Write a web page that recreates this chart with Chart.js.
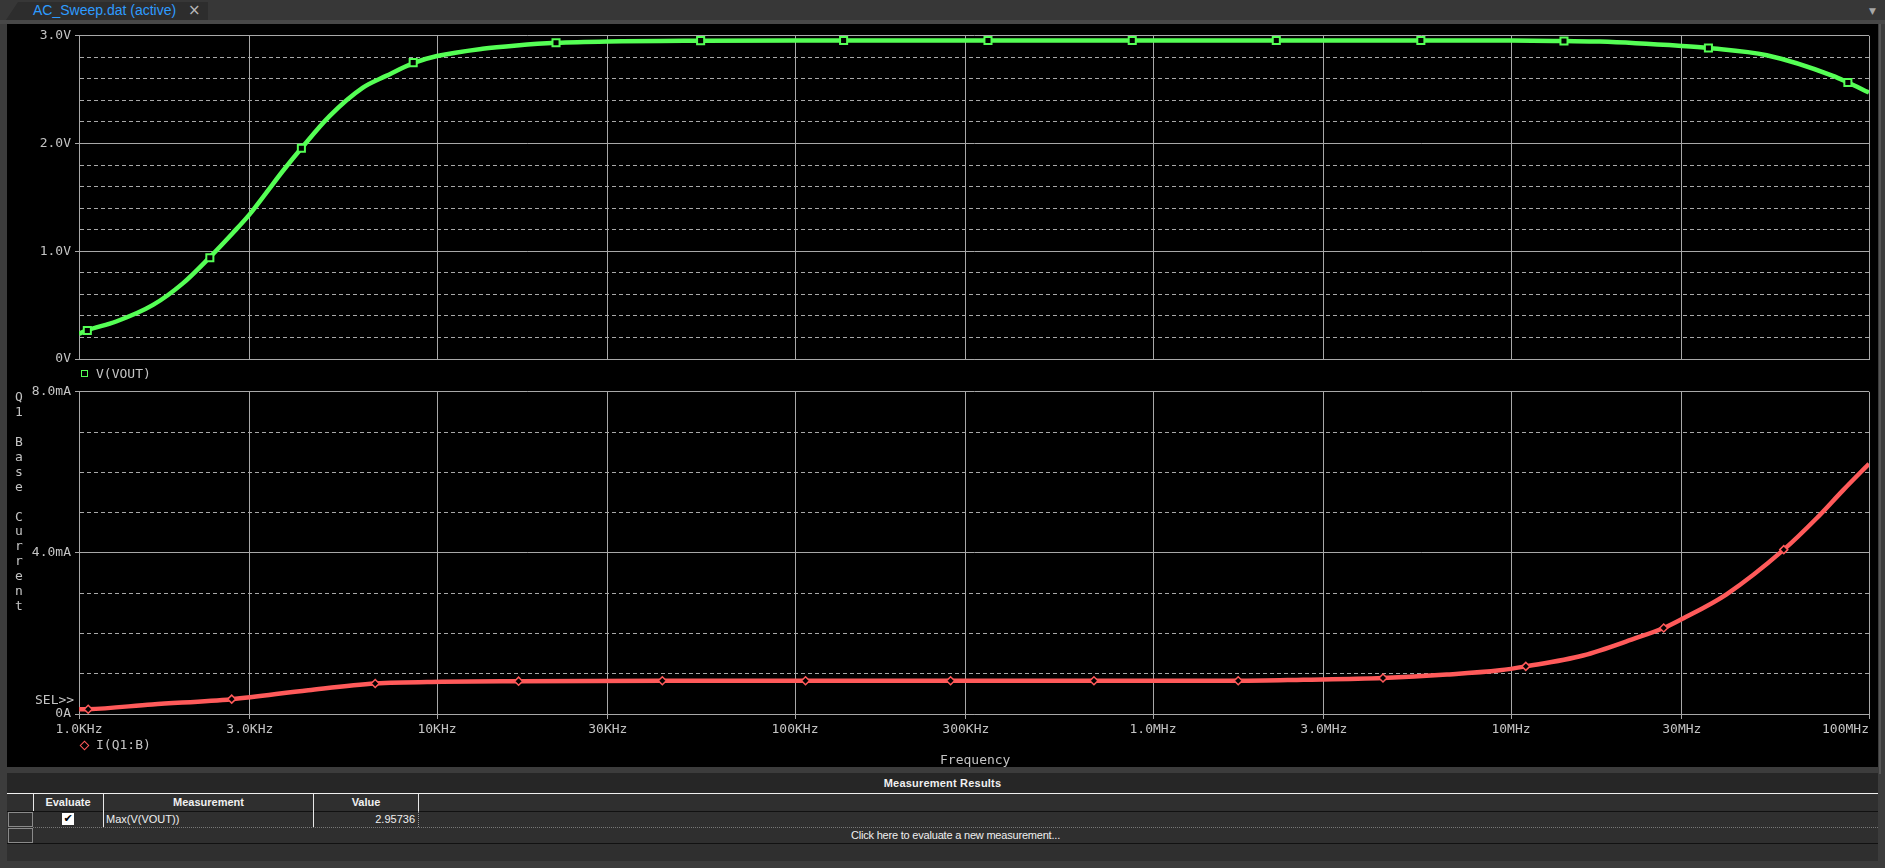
<!DOCTYPE html>
<html>
<head>
<meta charset="utf-8">
<script src="https://cdn.jsdelivr.net/npm/chart.js@4.4.1/dist/chart.umd.min.js"></script>
<style>
  body { margin: 0; width: 1885px; height: 868px; background: #3c3c3c; overflow: hidden; position: relative; }
  .abs { position: absolute; }
  .mono { font-family: "DejaVu Sans Mono", monospace; font-size: 13px; color: #c4c4c4; white-space: pre; }
  .ui { font-family: "Liberation Sans", Arial, sans-serif; font-size: 11px; color: #f0f0f0; white-space: pre; }
  .b { font-weight: bold; }
  canvas { position: absolute; }
</style>
</head>
<body>
<!-- tab bar -->
<div class="abs" style="left:0;top:0;width:1885px;height:20px;background:#373737"></div>
<div class="abs" style="left:6px;top:2px;width:202px;height:18px;background:#2d2d2d;clip-path:polygon(12px 0,100% 0,100% 100%,0 100%)"></div>
<div class="abs" style="left:33px;top:2px;font:14px 'Liberation Sans',Arial,sans-serif;color:#2d9cff;white-space:pre">AC_Sweep.dat (active)</div>
<div class="abs" style="left:188px;top:1px;font:15px 'DejaVu Sans',sans-serif;color:#b8b8b8">×</div>
<div class="abs" style="left:1869px;top:6px;font:9px 'DejaVu Sans',sans-serif;color:#a8a8a8">▼</div>
<div class="abs" style="left:0;top:20px;width:1885px;height:4px;background:#474747"></div>
<div class="abs" style="left:1879px;top:24px;width:2px;height:750px;background:#555"></div>

<!-- plot area -->
<div class="abs" style="left:7px;top:24px;width:1871px;height:743px;background:#000"></div>
<canvas id="chartTop" width="1871" height="361" style="left:7px;top:24px"></canvas>
<canvas id="chartBot" width="1871" height="385" style="left:7px;top:380px"></canvas>

<div class="abs" style="left:81px;top:370px;width:5px;height:5px;border:1.5px solid #55ff55"></div>
<div class="abs mono" style="left:96px;top:366px;line-height:16px">V(VOUT)</div>
<div class="abs" style="left:81px;top:742px;width:5px;height:5px;border:1.5px solid #ff5a5a;transform:rotate(45deg)"></div>
<div class="abs mono" style="left:96px;top:737px;line-height:16px">I(Q1:B)</div>
<div class="abs mono" style="left:35px;top:692px;line-height:16px">SEL&gt;&gt;</div>
<div class="abs mono" style="left:940px;top:752px;line-height:16px">Frequency</div>
<div id="yTitle" class="abs mono" style="left:15px;top:390px;line-height:14.93px"></div>

<!-- measurement panel -->
<div class="abs" style="left:7px;top:773px;width:1871px;height:20px;background:#262626"></div>
<div class="abs ui b" style="left:7px;top:777px;width:1871px;text-align:center;line-height:12px;letter-spacing:0.2px">Measurement Results</div>
<div class="abs" style="left:7px;top:793px;width:1871px;height:1px;background:#f0f0f0"></div>
<div class="abs" style="left:7px;top:794px;width:1871px;height:67px;background:#2f2f2f"></div>
<div class="abs" style="left:7px;top:811px;width:1871px;height:1px;background:#111"></div>
<div class="abs" style="left:33px;top:827px;width:1845px;height:0;border-top:1px dotted #777"></div>
<div class="abs" style="left:7px;top:843px;width:1871px;height:1px;background:#111"></div>
<div class="abs" style="left:33px;top:794px;width:1px;height:17px;background:#e8e8e8"></div>
<div class="abs" style="left:103px;top:794px;width:1px;height:33px;background:#e8e8e8"></div>
<div class="abs" style="left:313px;top:794px;width:1px;height:33px;background:#e8e8e8"></div>
<div class="abs" style="left:418px;top:794px;width:1px;height:17px;background:#e8e8e8"></div>
<div class="abs" style="left:418px;top:811px;width:0;height:16px;border-left:1px dotted #999"></div>
<div class="abs" style="left:8px;top:812px;width:23px;height:13px;border:1px solid #8a8a8a"></div>
<div class="abs" style="left:8px;top:828px;width:23px;height:13px;border:1px solid #8a8a8a"></div>
<div class="abs ui b" style="left:33px;top:796px;width:70px;text-align:center;line-height:13px">Evaluate</div>
<div class="abs ui b" style="left:104px;top:796px;width:209px;text-align:center;line-height:13px">Measurement</div>
<div class="abs ui b" style="left:314px;top:796px;width:104px;text-align:center;line-height:13px">Value</div>
<div class="abs" style="left:62px;top:813px;width:12px;height:12px;background:#fff;color:#000;font:11px 'DejaVu Sans',sans-serif;line-height:12px;text-align:center">✔</div>
<div class="abs ui" style="left:106px;top:813px;line-height:13px">Max(V(VOUT))</div>
<div class="abs ui" style="left:314px;top:813px;width:101px;text-align:right;line-height:13px">2.95736</div>
<div class="abs ui" style="left:33px;top:829px;width:1845px;text-align:center;line-height:13px;letter-spacing:-0.2px">Click here to evaluate a new measurement...</div>

<script>
// V(VOUT) curve, volts
const vFreq = [1000, 1050, 1270, 1610, 1950, 2310, 2690, 3000, 3330, 3710, 4180, 5010, 6210, 7210, 8660,
  10000, 13400, 16700, 21500, 30000, 55000, 1e5, 3e5, 1e6, 3e6, 1e7, 1.41e7, 1.77e7, 3e7, 3.56e7, 5.18e7, 7.93e7, 8.73e7, 1e8];
const vOut = [0.234, 0.264, 0.348, 0.502, 0.702, 0.939, 1.170, 1.345, 1.540, 1.745, 1.956, 2.255, 2.519, 2.628, 2.751,
  2.812, 2.880, 2.911, 2.935, 2.948, 2.955, 2.957, 2.957, 2.957, 2.957, 2.956, 2.951, 2.946, 2.905, 2.886, 2.819, 2.628, 2.566, 2.473];
const vMarkFreq = [1055, 2320, 4180, 8580, 21500, 54500, 136700, 346000, 875000, 2.21e6, 5.6e6, 1.406e7, 3.56e7, 8.73e7];
const vMarkVals = [0.264, 0.939, 1.956, 2.751, 2.935, 2.955, 2.957, 2.957, 2.957, 2.957, 2.957, 2.951, 2.886, 2.566];

// I(Q1:B) curve, mA
const iFreq = [1000, 1061, 1600, 2670, 4370, 6720, 10300, 16900, 42600, 1.73e6, 2.63e6, 4.39e6, 6.62e6, 9.3e6, 1.1e7,
  1.59e7, 2.2e7, 2.67e7, 3e7, 4e7, 5.78e7, 7.14e7, 8.47e7, 1e8];
const iBase = [0.115, 0.118, 0.237, 0.369, 0.591, 0.756, 0.80, 0.815, 0.825, 0.825, 0.85, 0.894, 0.978, 1.084, 1.182,
  1.453, 1.864, 2.135, 2.357, 2.973, 4.081, 4.86, 5.56, 6.214];
const iMarkFreq = [1061, 2670, 6720, 16900, 42600, 107000, 272000, 684000, 1.73e6, 4.39e6, 1.1e7, 2.67e7, 5.78e7];
const iMarkVals = [0.118, 0.369, 0.756, 0.815, 0.825, 0.825, 0.825, 0.825, 0.825, 0.894, 1.182, 2.135, 4.081];

const xTickVals = [1e3, 3e3, 1e4, 3e4, 1e5, 3e5, 1e6, 3e6, 1e7, 3e7, 1e8];
const xTickLabels = ['1.0KHz', '3.0KHz', '10KHz', '30KHz', '100KHz', '300KHz', '1.0MHz', '3.0MHz', '10MHz', '30MHz', '100MHz'];
const vTickLabels = ['0V', '1.0V', '2.0V', '3.0V'];
const iTickLabels = ['0A', '4.0mA', '8.0mA'];
const yTitle = 'Q1 Base Current';

const green = '#55ff55';
const red = '#ff5a5a';
const gridColor = '#a8a8a8';
const txtColor = '#c4c4c4';
const monoFont = { family: '"DejaVu Sans Mono", monospace', size: 13 };

const yt = document.getElementById('yTitle');
for (const ch of yTitle) {
    const d = document.createElement('div');
    d.textContent = ch === ' ' ? '\u00a0' : ch;
    yt.appendChild(d);
}

const pts = (xs, ys) => xs.map((x, i) => ({ x: x, y: ys[i] }));

const yScale = (max, minorStep, majorStep, labels) => ({
    min: 0,
    max: max,
    afterBuildTicks: scale => {
        const n = Math.round(max / minorStep);
        const t = [];
        for (let i = 0; i <= n; i++) {
            const v = +(i * minorStep).toFixed(4);
            t.push({ value: v, major: Math.abs(v / majorStep - Math.round(v / majorStep)) < 1e-6 });
        }
        scale.ticks = t;
    },
    afterFit: scale => { scale.width = 72; },
    ticks: {
        autoSkip: false,
        color: txtColor,
        font: monoFont,
        padding: 4,
        callback: (v, i, ticks) => ticks[i].major ? labels[Math.round(v / majorStep)] : ''
    },
    grid: {
        color: gridColor,
        lineWidth: 1,
        tickLength: 4,
        tickColor: ctx => ctx.tick && ctx.tick.major ? gridColor : 'rgba(0,0,0,0)'
    },
    border: {
        color: gridColor,
        dash: ctx => (ctx.type === 'tick' && ctx.tick && !ctx.tick.major) ? [4, 3] : []
    }
});

const xScale = (height, tickLen) => ({
    type: 'logarithmic',
    min: 1000,
    max: 1e8,
    afterBuildTicks: scale => { scale.ticks = xTickVals.map(v => ({ value: v })); },
    afterFit: scale => { scale.height = height; },
    ticks: { display: false, autoSkip: false },
    grid: { color: gridColor, lineWidth: 1, drawTicks: tickLen > 0, tickLength: tickLen, tickColor: gridColor },
    border: { color: gridColor }
});

// frequency labels: centred, except the last one which ends on the frame
const freqLabels = {
    id: 'freqLabels',
    afterDraw(chart) {
        const sc = chart.scales.x;
        const c = chart.ctx;
        c.save();
        c.font = '13px "DejaVu Sans Mono", monospace';
        c.fillStyle = txtColor;
        c.textBaseline = 'middle';
        sc.ticks.forEach((t, i) => {
            c.textAlign = i === sc.ticks.length - 1 ? 'right' : 'center';
            c.fillText(xTickLabels[i], sc.getPixelForValue(t.value), sc.top + 16);
        });
        c.restore();
    }
};

const baseOpts = (pad, x, y) => ({
    responsive: false,
    animation: false,
    layout: { padding: pad },
    scales: { x: x, y: y },
    plugins: { legend: { display: false }, tooltip: { enabled: false } }
});

const markerSet = (data, color, style, radius, width) => ({
    data: data,
    showLine: false,
    pointStyle: style,
    pointRadius: radius,
    pointBorderWidth: width,
    pointBackgroundColor: '#000',
    pointBorderColor: color
});

const curveSet = (data, color) => ({
    data: data,
    borderColor: color,
    borderWidth: 4.5,
    pointRadius: 0,
    cubicInterpolationMode: 'monotone'
});

new Chart(document.getElementById('chartTop').getContext('2d'), {
    type: 'line',
    data: {
        datasets: [
            markerSet(pts(vMarkFreq, vMarkVals), green, 'rect', 5, 2),
            curveSet(pts(vFreq, vOut), green)
        ]
    },
    options: baseOpts({ top: 11, right: 9, left: 0, bottom: 0 }, xScale(26, 0), yScale(3, 0.2, 1, vTickLabels))
});

new Chart(document.getElementById('chartBot').getContext('2d'), {
    type: 'line',
    data: {
        datasets: [
            markerSet(pts(iMarkFreq, iMarkVals), red, 'rectRot', 4, 1.5),
            curveSet(pts(iFreq, iBase), red)
        ]
    },
    options: baseOpts({ top: 9, right: 9, left: 0, bottom: 0 }, xScale(51, 5), yScale(8, 1, 4, iTickLabels)),
    plugins: [freqLabels]
});
</script>
</body>
</html>
